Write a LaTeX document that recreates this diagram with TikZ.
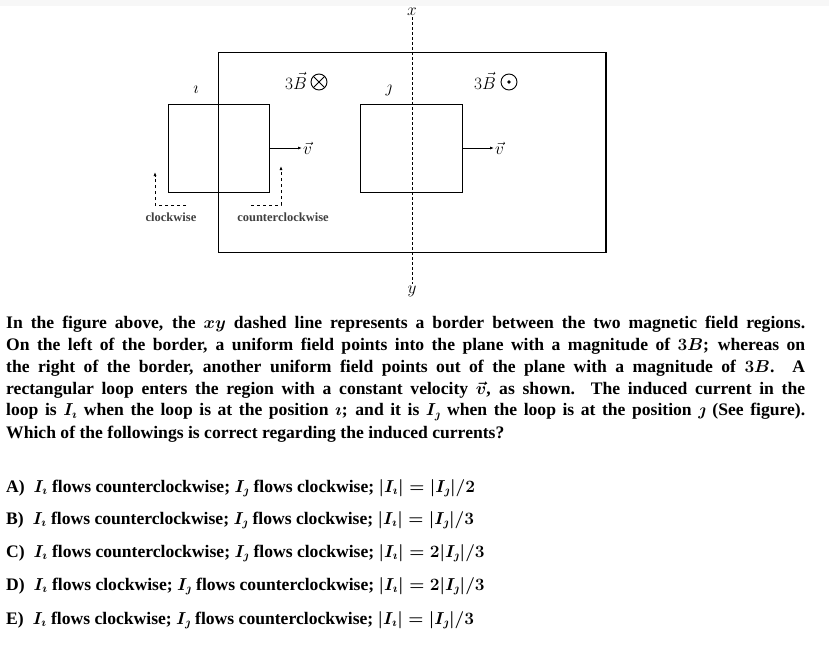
\documentclass[tikz,border=0pt]{standalone}
\usepackage{amsmath}
\usepackage{fontspec}
\setmainfont{Liberation Serif}
\usetikzlibrary{arrows.meta}
\tikzset{box/.style={draw,line width=1pt},
 vel/.style={-{Latex[length=4pt]},line width=0.8pt},
 cur/.style={dashed,line width=0.8pt,-{Latex[length=4pt]}},
 txt/.style={anchor=west,inner sep=0,font=\bfseries\fontsize{17.6}{19}\selectfont},
 lbl/.style={inner sep=1pt,font=\fontsize{17}{18}\selectfont},
 small/.style={inner sep=0,font=\bfseries\fontsize{12.5}{13}\selectfont,text=black!75}}
\newcommand{\jline}[1]{\makebox[799pt][s]{#1}}
\begin{document}
\begin{tikzpicture}[x=1pt,y=-1pt]
\useasboundingbox (0,0) rectangle (829,653);
\fill[black!3] (0,0) rectangle (829,6);
\draw[box] (218,52) rectangle (606,252);
\draw[line width=2pt] (606,52) -- (606,252);
\node[lbl] (x) at (412,12) {$x$};
\node[lbl] (y) at (412,291) {$y$};
\draw[densely dashed,line width=0.7pt] (x) -- (y);
\draw[box] (168,104) rectangle (269,192);
\draw[box] (360,104) rectangle (462,192);
\coordinate (ri) at (269,148); \coordinate (rj) at (462,148);
\node[lbl,anchor=west] (vi) at (302,148) {$\vec v$};
\node[lbl,anchor=west] (vj) at (494,148) {$\vec v$};
\draw[vel] (ri) -- (vi.west);
\draw[vel] (rj) -- (vj.west);
\node[lbl,anchor=east] (bi) at (308,81) {$3\vec B$};
\draw[line width=0.9pt] (319,82) circle (8);
\draw[line width=0.9pt] (313.3,76.3) -- (324.7,87.7) (313.3,87.7) -- (324.7,76.3);
\node[lbl,anchor=east] (bj) at (497,81) {$3\vec B$};
\draw[line width=0.9pt] (509,82) circle (8);
\fill (509,82) circle (1.8);
\node[lbl] (li) at (196,90) {$\imath$};
\node[lbl] (lj) at (389,90) {$\jmath$};
\node[small] (cw) at (171,217) {clockwise};
\node[small] (ccw) at (283,217) {counterclockwise};
\coordinate (c1) at (186,205); \coordinate (c2) at (155,172);
\draw[cur] (c1) -- (155,205) -- (c2);
\coordinate (d1) at (251,205); \coordinate (d2) at (281,166);
\draw[cur] (d1) -- (281,205) -- (d2);
\node[txt] (t1) at (6,324) {\jline{In the figure above, the $\boldsymbol{xy}$ dashed line represents a border between the two magnetic field regions.}};
\node[txt] (t2) at (6,346) {\jline{On the left of the border, a uniform field points into the plane with a magnitude of $\boldsymbol{3B}$; whereas on}};
\node[txt] (t3) at (6,368) {\jline{the right of the border, another uniform field points out of the plane with a magnitude of $\boldsymbol{3B}$. A}};
\node[txt] (t4) at (6,390) {\jline{rectangular loop enters the region with a constant velocity $\boldsymbol{\vec v}$, as shown. The induced current in the}};
\node[txt] (t5) at (6,412) {\jline{loop is $\boldsymbol{I_\imath}$ when the loop is at the position $\boldsymbol{\imath}$; and it is $\boldsymbol{I_\jmath}$ when the loop is at the position $\boldsymbol{\jmath}$ (See figure).}};
\node[txt] (t6) at (6,434) {Which of the followings is correct regarding the induced currents?};
\node[txt] (a) at (6,488) {A)\enspace $\boldsymbol{I_\imath}$ flows counterclockwise; $\boldsymbol{I_\jmath}$ flows clockwise; $\boldsymbol{|I_\imath|=|I_\jmath|/2}$};
\node[txt] (b) at (6,520) {B)\enspace $\boldsymbol{I_\imath}$ flows counterclockwise; $\boldsymbol{I_\jmath}$ flows clockwise; $\boldsymbol{|I_\imath|=|I_\jmath|/3}$};
\node[txt] (c) at (6,553) {C)\enspace $\boldsymbol{I_\imath}$ flows counterclockwise; $\boldsymbol{I_\jmath}$ flows clockwise; $\boldsymbol{|I_\imath|=2|I_\jmath|/3}$};
\node[txt] (d) at (6,586) {D)\enspace $\boldsymbol{I_\imath}$ flows clockwise; $\boldsymbol{I_\jmath}$ flows counterclockwise; $\boldsymbol{|I_\imath|=2|I_\jmath|/3}$};
\node[txt] (e) at (6,620) {E)\enspace $\boldsymbol{I_\imath}$ flows clockwise; $\boldsymbol{I_\jmath}$ flows counterclockwise; $\boldsymbol{|I_\imath|=|I_\jmath|/3}$};
\end{tikzpicture}
\end{document}
